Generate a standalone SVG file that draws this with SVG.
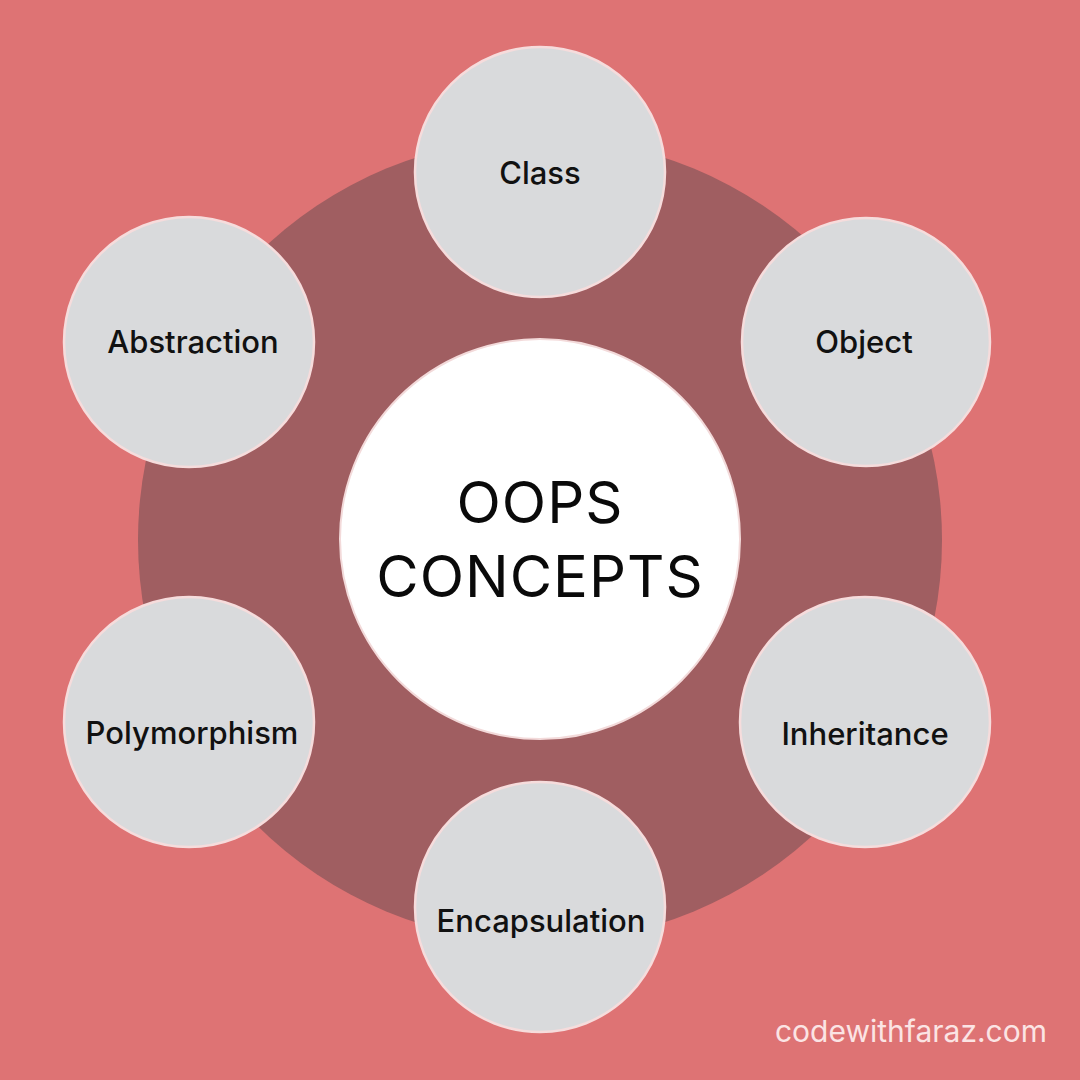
<svg xmlns="http://www.w3.org/2000/svg" width="1080" height="1080" viewBox="0 0 1080 1080">
<style>
.bg{fill:#DE7374}
.ring{fill:#A05E61}
.hub{fill:#FFFFFF;stroke:#F3DADA;stroke-width:2}
.node{fill:#D9DADC;stroke:#F6DCDC;stroke-width:2.5}
.lbl{font-family:Inter,"Liberation Sans",sans-serif;font-size:31px;font-weight:500;fill:#111111;text-anchor:middle}
.title{font-family:Inter,"Liberation Sans",sans-serif;font-size:58px;letter-spacing:1px;fill:#0A0A0A;text-anchor:middle}
.mark{font-family:Inter,"Liberation Sans",sans-serif;font-size:30px;fill:#FBE4E4;text-anchor:middle}
</style>
<rect class="bg" x="0" y="0" width="1080" height="1080"/>
<circle class="ring" cx="540" cy="540" r="402"/>
<g id="connectors"></g>
<g id="hub">
<circle class="hub" cx="540" cy="539" r="200"/>
<text class="title" x="540" y="523">OOPS</text>
<text class="title" x="540" y="597">CONCEPTS</text>
</g>
<g id="class">
<circle class="node" cx="540" cy="172" r="125"/>
<text class="lbl" x="540" y="184">Class</text>
</g>
<g id="object">
<circle class="node" cx="866" cy="342" r="124"/>
<text class="lbl" x="864" y="353">Object</text>
</g>
<g id="abstraction">
<circle class="node" cx="189" cy="342" r="125"/>
<text class="lbl" x="193" y="353">Abstraction</text>
</g>
<g id="polymorphism">
<circle class="node" cx="189" cy="722" r="125"/>
<text class="lbl" x="192" y="744">Polymorphism</text>
</g>
<g id="inheritance">
<circle class="node" cx="865" cy="722" r="125"/>
<text class="lbl" x="865" y="745">Inheritance</text>
</g>
<g id="encapsulation">
<circle class="node" cx="540" cy="907" r="125"/>
<text class="lbl" x="541" y="932">Encapsulation</text>
</g>
<text class="mark" x="911" y="1042">codewithfaraz.com</text>
</svg>
